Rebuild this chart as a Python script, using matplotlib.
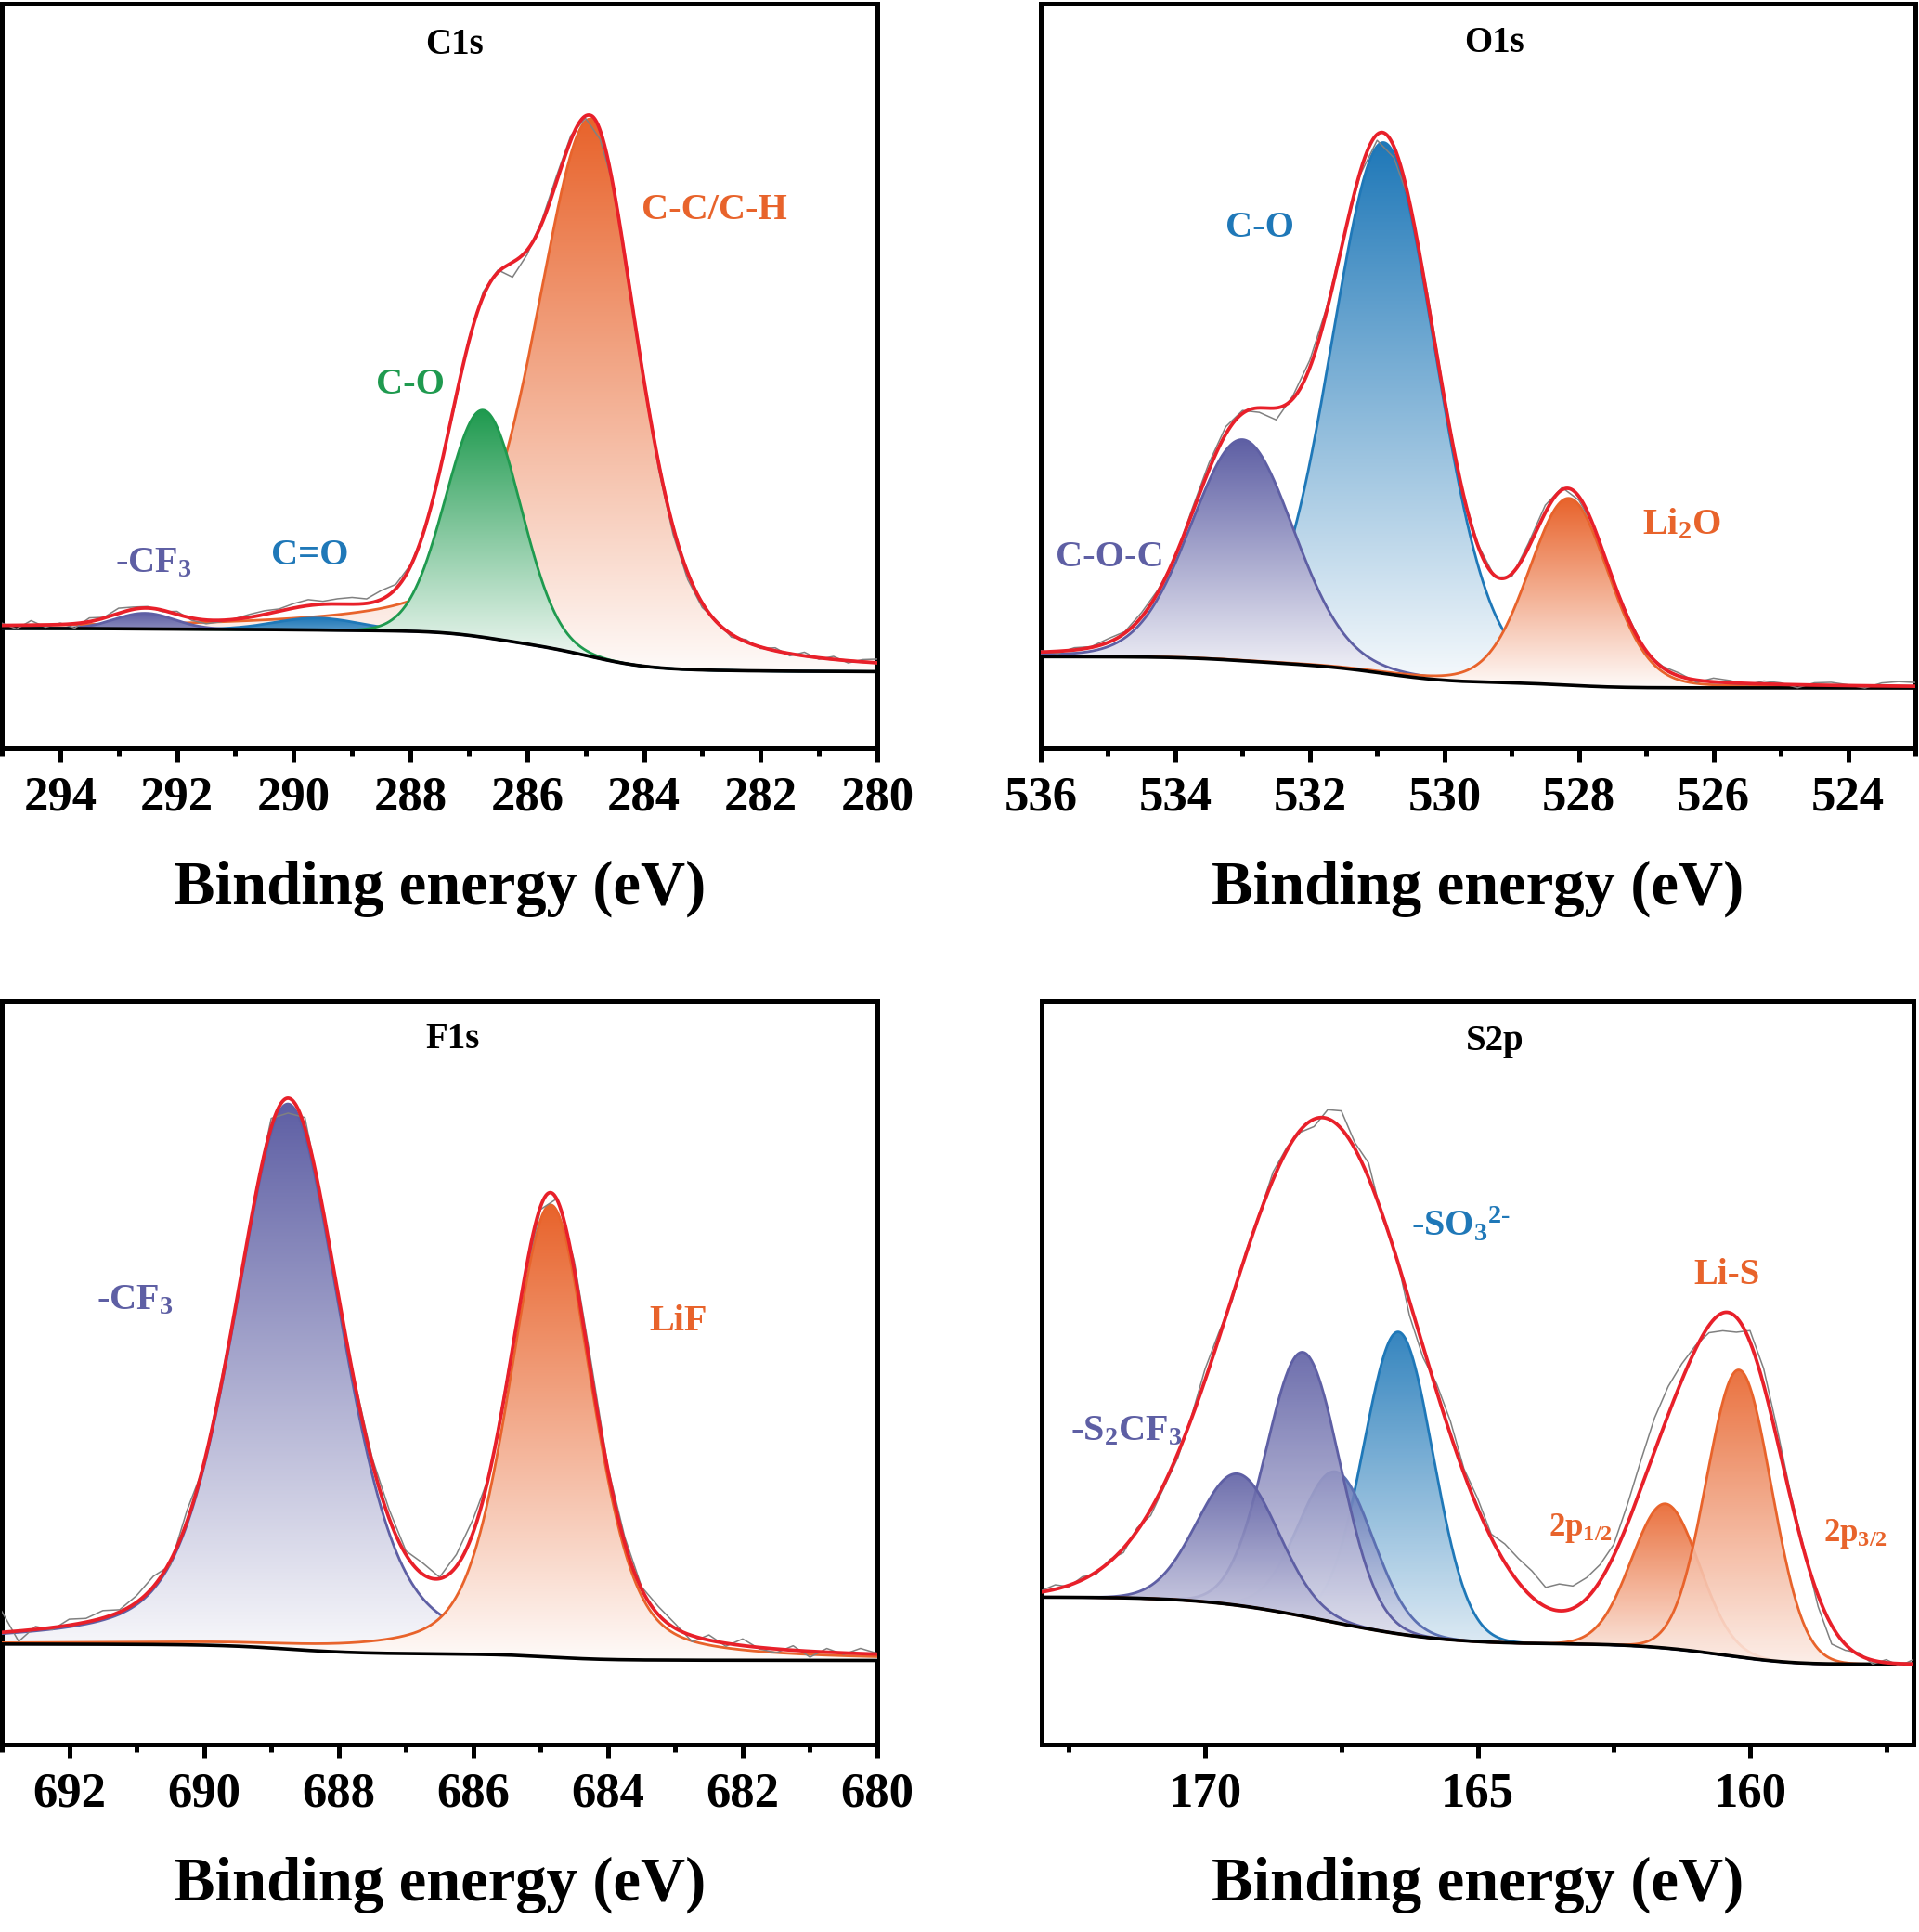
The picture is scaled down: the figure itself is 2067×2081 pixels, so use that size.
import numpy as np
import matplotlib
matplotlib.use('Agg')
import matplotlib.pyplot as plt
import matplotlib.colors as mcolors
from matplotlib.ticker import MultipleLocator
from math import erf

# colours
ORANGE = '#e8632b'
BLUE = '#1f78b8'
GREEN = '#1f9a4f'
PURPLE = '#5e5fa4'
SLATE = '#5b70b2'
RED = '#e8202a'

# ---------------- C1s ----------------
c1s_xlim = (295, 280)
c1s_centers = [284.9, 289.6, 286.75, 292.55]
c1s_heights = [72.2, 1.6, 30.5, 2.1]
c1s_fwhm = [1.9, 1.7, 1.5, 1.2]
c1s_eta = [0.45, 0.0, 0.0, 0.0]
c1s_asym = [1.2, 1.0, 1.0, 1.0]   # width factor on the high-BE side
c1s_colors = [ORANGE, BLUE, GREEN, PURPLE]
c1s_bg = (16.1, 10.3)
c1s_resid = [0.3, -0.5, 0.6, -0.3, 0.2, -0.6, 0.5, 0.1, 0.7, 0.3, 0.2, -0.2, 0.4,
             -0.3, -0.5, -0.2, 0.1, 0.4, 0.5, 0.3, 0.6, 0.8, 0.4, 0.7, 0.9, 0.6,
             1.2, 0.6, 0.2, -0.3, 0.2, -0.5, 0.4, 0.6, 0.3, -2.0, -0.6, 0.4, 0.8,
             0.6, -0.3, -1.2, 0.5, -0.4, 0.3, -0.8, -1.0, -0.9, -0.6, 0.2, -0.4,
             0.3, -0.2, 0.4, -0.3, 0.5, -0.2, 0.4, -0.3, 0.3, 0.5]
c1s_labels = ['C-C/C-H', 'C-O', 'C=O', '-CF$_3$']
c1s_label_x = [282.8, 288.0, 289.73, 292.4]
c1s_label_y = [72.2, 48.8, 25.9, 24.8]
c1s_label_colors = [ORANGE, GREEN, BLUE, PURPLE]

# ---------------- O1s ----------------
o1s_xlim = (536, 523)
o1s_centers = [530.9, 533.0, 528.15]
o1s_heights = [71.3, 29.7, 25.1]
o1s_fwhm = [1.85, 1.8, 1.4]
o1s_eta = [0.15, 0.1, 0.15]
o1s_asym = [1.0, 1.0, 1.0]
o1s_colors = [BLUE, PURPLE, ORANGE]
o1s_bg = (12.3, 8.1)
o1s_resid = [0.2, -0.3, 0.3, 0.1, 0.5, 0.2, 0.6, 0.3, -0.2, 0.6, 0.9, 1.0, 0.4,
             -0.6, -1.6, 0.4, 1.0, 0.5, 0.2, -0.4, -0.8, -1.5, 0.3, 0.8, 0.4,
             -0.3, 0.2, -0.2, -0.4, 0.6, 1.0, 0.3, -0.5, 0.2, -0.2, 0.3, -0.3,
             0.2, 0.4, -0.3, 0.5, 0.3, -0.2, 0.4, 0.2, -0.4, 0.3, 0.4, 0.1, -0.3,
             0.4, 0.6, 0.5]
o1s_labels = ['C-O', 'C-O-C', 'Li$_2$O']
o1s_label_x = [532.75, 534.97, 526.47]
o1s_label_y = [69.9, 25.6, 30.0]
o1s_label_colors = [BLUE, PURPLE, ORANGE]

# ---------------- F1s ----------------
f1s_xlim = (693, 680)
f1s_centers = [688.75, 684.85]
f1s_heights = [73.3, 60.8]
f1s_fwhm = [1.9, 1.45]
f1s_eta = [0.4, 0.38]
f1s_asym = [1.0, 1.0]
f1s_colors = [PURPLE, ORANGE]
f1s_bg = (13.5, 11.3)
f1s_resid = [2.8, -1.4, 0.4, -0.3, 0.8, 0.5, 1.0, 0.3, 0.9, 1.4, -0.6, 1.5, -0.4,
             0.6, -0.3, 0.5, 1.2, -2.0, 1.4, 0.2, -0.3, 0.4, 0.6, 1.2, 0.5, 1.5,
             0.2, 1.6, 1.8, -0.4, 0.5, 0.2, -0.4, 0.3, 1.2, 1.5, 0.4, 0.8, 0.3,
             1.1, 0.6, -0.8, 0.7, -0.4, 0.9, -0.2, -0.5, 0.6, -0.8, 0.5, -0.2,
             0.7, 0.1]
f1s_labels = ['-CF$_3$', 'LiF']
f1s_label_x = [691.03, 682.95]
f1s_label_y = [59.7, 56.9]
f1s_label_colors = [PURPLE, ORANGE]

# ---------------- S2p ----------------
s2p_xlim = (173, 157)
s2p_centers = [166.45, 167.6, 168.2, 169.4, 161.55, 160.2]
s2p_heights = [40.6, 20.3, 35.5, 17.7, 19.4, 38.6]
s2p_fwhm = [1.5, 1.6, 1.6, 1.75, 1.45, 1.4]
s2p_eta = [0.0, 0.0, 0.0, 0.0, 0.0, 0.0]
s2p_asym = [1.0, 1.0, 1.0, 1.0, 1.0, 1.0]
s2p_colors = [BLUE, SLATE, PURPLE, PURPLE, ORANGE, ORANGE]
s2p_bg = (19.8, 10.8)
# fitted envelope as reported (not the plain sum of the drawn components)
s2p_env_centers = [167.8, 161.4, 160.1]
s2p_env_heights = [67.6, 23.5, 36.0]
s2p_env_fwhm = [4.05, 2.1, 1.9]
s2p_resid = [0.2, 0.6, -0.2, 0.4, -0.3, 0.3, -0.6, 0.4, -0.8, -0.4, -0.6, 0.3, 1.5,
             0.8, -0.5, 0.4, 0.2, 1.0, 0.4, -0.3, -1.0, 1.2, 2.4, 0.8, 2.0, -0.5,
             0.4, -2.0, -1.5, 1.0, 1.8, 0.6, 1.3, 0.5, 2.5, 3.2, 3.5, 2.6, 3.6,
             3.0, 2.8, 2.2, 1.5, 2.6, 3.8, 4.5, 3.8, 2.2, 0.5, -1.0, -2.4, -2.0,
             1.5, 2.2, 1.5, 0.6, 0.3, -1.5, -2.5, -0.8, 0.3, -0.5, 0.4, -0.3, 0.6]
s2p_labels = ['-SO$_3$$^{2\\text{-}}$', 'Li-S', '-S$_2$CF$_3$', '2p$_{1/2}$', '2p$_{3/2}$']
s2p_label_x = [165.3, 160.43, 171.45, 163.1, 158.07]
s2p_label_y = [69.8, 63.1, 42.1, 29.1, 28.3]
s2p_label_colors = [BLUE, ORANGE, PURPLE, ORANGE, ORANGE]
s2p_label_sizes = [29, 28, 29, 25, 25]

verf = np.vectorize(erf)


def pv(x, c, h, w, eta, a=1.0):
    # pseudo-Voigt line shape, width w*a on the high-BE side
    ww = np.where(x > c, w * a, w)
    u = (x - c) / ww
    return h * (eta / (1 + 4 * u ** 2) + (1 - eta) * np.exp(-4 * np.log(2) * u ** 2))


def _cum(x, c, h, w, eta):
    s = w / (2 * np.sqrt(2 * np.log(2)))
    lor = eta * h * (w / 2) * (np.arctan(2 * (x - c) / w) + np.pi / 2)
    gau = (1 - eta) * h * s * np.sqrt(2 * np.pi) * 0.5 * (1 + verf((x - c) / (s * np.sqrt(2))))
    return lor + gau


def pv_area(x, c, h, w, eta, a=1.0):
    lo_part = _cum(np.minimum(x, c), c, h, w, eta)
    hi_part = _cum(np.maximum(x, c), c, h, w * a, eta) - _cum(c, c, h, w * a, eta)
    return lo_part + hi_part


def shirley(x, peaks, hi, lo, xlo, xhi):
    def area(e):
        return sum(pv_area(e, *p) for p in peaks)
    frac = (area(x) - area(xlo)) / (area(xhi) - area(xlo))
    return lo + (hi - lo) * frac


def grad_fill(ax, x, base, top, color, alpha, tmin, z):
    poly = ax.fill_between(x, base, top, color='none', lw=0)
    path = poly.get_paths()[0]
    poly.remove()
    rgb = np.array(mcolors.to_rgb(color))
    t = np.linspace(1, tmin, 256)[:, None]
    img = np.ones((256, 1, 4))
    img[:, 0, :3] = t * rgb + (1 - t)
    img[:, 0, 3] = alpha
    im = ax.imshow(img, extent=(x.min(), x.max(), base.min(), top.max()),
                   origin='upper', aspect='auto', zorder=z, interpolation='bilinear')
    im.set_clip_path(path, transform=ax.transData)


def draw_panel(ax, p):
    hi_x, lo_x = p['xlim']
    x = np.linspace(lo_x, hi_x, 2000)
    comps = list(zip(p['centers'], p['heights'], p['fwhm'], p['eta'], p['asym']))
    env_peaks = p.get('env') or comps
    bg = shirley(x, env_peaks, p['bg'][0], p['bg'][1], lo_x, hi_x)
    for i, (pk, col) in enumerate(zip(comps, p['colors'])):
        y = bg + pv(x, *pk)
        grad_fill(ax, x, bg, y, col, p['alpha'], p['tmin'], 2 + 2 * i)
        ax.plot(x, y, color=col, lw=2.0, zorder=3 + 2 * i)
    env = bg + sum(pv(x, *pk) for pk in env_peaks)
    ax.plot(x, bg, color='black', lw=2.6, zorder=30)

    # raw spectrum = fit + residual
    xr = np.linspace(hi_x, lo_x, len(p['resid']))
    bgr = shirley(xr, env_peaks, p['bg'][0], p['bg'][1], lo_x, hi_x)
    raw = bgr + sum(pv(xr, *pk) for pk in env_peaks) + np.array(p['resid'])
    ax.plot(xr, raw, color='#808080', lw=1.1, zorder=31)
    ax.plot(x, env, color=RED, lw=2.7, zorder=32)

    for txt, lx, ly, lc, fs in zip(p['labels'], p['lx'], p['ly'], p['lc'], p['lfs']):
        ax.text(lx, ly, txt, color=lc, fontsize=fs, fontweight='bold',
                ha='center', va='center', zorder=40)
    ax.text(p['title_pos'][0], p['title_pos'][1], p['title'], transform=ax.transAxes,
            fontsize=28, fontweight='bold', ha='center', va='center')

    ax.set_xlim(hi_x, lo_x)
    ax.set_ylim(0, 100)
    ax.set_yticks([])
    ax.xaxis.set_major_locator(MultipleLocator(p['major']))
    ax.xaxis.set_minor_locator(MultipleLocator(p['minor']))
    ax.tick_params(axis='x', which='major', direction='out', length=11, width=3.6,
                   pad=10, labelsize=38)
    ax.tick_params(axis='x', which='minor', direction='out', length=5.5, width=3.6)
    for s in ax.spines.values():
        s.set_linewidth(3.6)
    ax.set_xlabel('Binding energy (eV)', fontsize=48, fontweight='bold', labelpad=31)


plt.rcParams.update({
    'font.family': 'Liberation Serif',
    'font.weight': 'bold',
    'mathtext.fontset': 'custom',
    'mathtext.rm': 'Liberation Serif:bold',
    'mathtext.it': 'Liberation Serif:bold',
    'mathtext.bf': 'Liberation Serif:bold',
    'mathtext.default': 'rm',
})

panels = [
    dict(title='C1s', title_pos=(0.517, 0.945), xlim=c1s_xlim, centers=c1s_centers,
         heights=c1s_heights, fwhm=c1s_fwhm, eta=c1s_eta, asym=c1s_asym, colors=c1s_colors,
         bg=c1s_bg, resid=c1s_resid, alpha=1.0, tmin=0.03, labels=c1s_labels,
         lx=c1s_label_x, ly=c1s_label_y, lc=c1s_label_colors, lfs=[29] * 4, major=2, minor=1),
    dict(title='O1s', title_pos=(0.519, 0.947), xlim=o1s_xlim, centers=o1s_centers,
         heights=o1s_heights, fwhm=o1s_fwhm, eta=o1s_eta, asym=o1s_asym, colors=o1s_colors,
         bg=o1s_bg, resid=o1s_resid, alpha=1.0, tmin=0.03, labels=o1s_labels,
         lx=o1s_label_x, ly=o1s_label_y, lc=o1s_label_colors, lfs=[29] * 3, major=2, minor=1),
    dict(title='F1s', title_pos=(0.515, 0.948), xlim=f1s_xlim, centers=f1s_centers,
         heights=f1s_heights, fwhm=f1s_fwhm, eta=f1s_eta, asym=f1s_asym, colors=f1s_colors,
         bg=f1s_bg, resid=f1s_resid, alpha=1.0, tmin=0.03, labels=f1s_labels,
         lx=f1s_label_x, ly=f1s_label_y, lc=f1s_label_colors, lfs=[29] * 2, major=2, minor=1),
    dict(title='S2p', title_pos=(0.52, 0.946), xlim=s2p_xlim, centers=s2p_centers,
         heights=s2p_heights, fwhm=s2p_fwhm, eta=s2p_eta, asym=s2p_asym, colors=s2p_colors,
         bg=s2p_bg, resid=s2p_resid, alpha=0.9, tmin=0.12, labels=s2p_labels,
         lx=s2p_label_x, ly=s2p_label_y, lc=s2p_label_colors, lfs=s2p_label_sizes,
         major=5, minor=2.5,
         env=[(c, h, w, 0.0, 1.0) for c, h, w in zip(s2p_env_centers, s2p_env_heights, s2p_env_fwhm)]),
]

W, H = 2067, 2081
boxes = [(2, 4, 945, 806), (1121, 4, 2063, 806), (2, 1078, 945, 1879), (1122, 1078, 2061, 1879)]

fig = plt.figure(figsize=(W / 100, H / 100), dpi=100)
for (l, t, r, b), p in zip(boxes, panels):
    ax = fig.add_axes([l / W, 1 - b / H, (r - l) / W, (b - t) / H])
    draw_panel(ax, p)

fig.savefig('out.png', dpi=100, facecolor='white')
